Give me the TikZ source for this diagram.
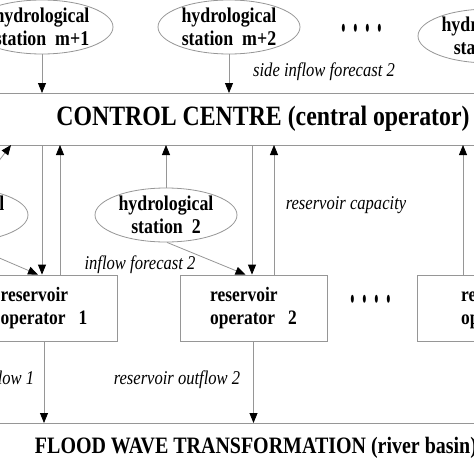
\documentclass[tikz,border=0pt]{standalone}
\usepackage{fontspec}
\setmainfont[FakeStretch=0.85]{Liberation Serif}
\usetikzlibrary{positioning,shapes.geometric,arrows.meta}

\definecolor{linegray}{RGB}{150,150,150}

\begin{document}
\begin{tikzpicture}[x=1pt, y=-1pt]
	\tikzset{
		station/.style={ellipse, draw=linegray, thick, minimum width=142pt, minimum height=54pt, inner sep=0pt, align=center, font=\fontsize{21}{23}\selectfont\bfseries},
		operator/.style={rectangle, draw=linegray, thick, minimum width=147pt, minimum height=66pt, align=left, font=\fontsize{20.5}{23}\selectfont\bfseries},
		flowlabel/.style={font=\fontsize{19.5}{22}\selectfont\itshape, inner sep=0pt},
		dots/.style={font=\fontsize{22}{22}\selectfont\bfseries, inner sep=0pt},
		edge/.style={draw=linegray, thick, -{Triangle[length=10pt, width=8pt, black]}},
		band/.style={draw=linegray, thick}
	}
	\useasboundingbox (0,0) rectangle (474,474);
	\clip (0,0) rectangle (474,474);
	
	% Upper hydrological stations
	\node[station] (stm1) at (42,27) {hydrological\\station~~m+1};
	\node[station] (stm2) at (229,27) {hydrological\\station~~m+2};
	\node[station] (stmn) at (489,36) {hydrological\\station~~n};
	\node[dots] (topdots) at (362,28) {\scalebox{1}[2.2]{.\,\,.\,\,.\,\,.}};
	
	% Control centre
	\coordinate (ctop) at (0,93);
	\coordinate (cbot) at (0,145);
	\draw[band] (ctop) -- (474,93);
	\draw[band] (cbot) -- (474,145);
	\node[font=\fontsize{28}{30}\selectfont\bfseries] (centre) at (263,119) {CONTROL CENTRE (central operator)};
	
	% Lower hydrological stations
	\node[station] (st1) at (-43,215) {hydrological\\station~~1};
	\node[station] (st2) at (166,215) {hydrological\\station~~2};
	
	% Reservoir operators
	\node[operator] (op1) at (44,308) {reservoir\\operator~~~1};
	\node[operator] (op2) at (253.5,308) {reservoir\\operator~~~2};
	\node[operator, minimum width=175pt] (opn) at (505,308) {reservoir\\operator~~~n};
	\node[dots] (middots) at (371,299) {\scalebox{1}[2.2]{.\,\,.\,\,.\,\,.}};
	
	% Flood wave transformation
	\coordinate (ftop) at (0,423);
	\draw[band] (ftop) -- (474,423);
	\node[font=\fontsize{23.5}{26}\selectfont\bfseries] (flood) at (256,448) {FLOOD WAVE TRANSFORMATION (river basin)};
	
	% Side inflow forecasts
	\draw[edge] (stm1.south) -- (stm1.south |- ctop);
	\draw[edge] (stm2.south) -- (stm2.south |- ctop);
	\node[flowlabel] (sidelab) at (324,72) {side inflow forecast 2};
	
	% Station to centre and operators
	\draw[edge] (st1.52) -- ([xshift=-33pt]op1.north |- cbot);
	\draw[edge] (st2.north) -- (st2.north |- cbot);
	\draw[edge] (st1.-78) -- ([xshift=-6pt]op1.north);
	\draw[edge] (st2.-88) -- ([xshift=-8pt]op2.north);
	\node[flowlabel] (inflab) at (140,265) {inflow forecast 2};
	
	% Centre and operators
	\draw[edge] ([xshift=-2pt]op1.north |- cbot) -- ([xshift=-2pt]op1.north);
	\draw[edge] ([xshift=16pt]op1.north) -- ([xshift=16pt]op1.north |- cbot);
	\draw[edge] ([xshift=-1.5pt]op2.north |- cbot) -- ([xshift=-1.5pt]op2.north);
	\draw[edge] ([xshift=20.5pt]op2.north) -- ([xshift=20.5pt]op2.north |- cbot);
	\draw[edge] ([xshift=-42pt]opn.north) -- ([xshift=-42pt]opn.north |- cbot);
	\node[flowlabel] (caplab) at (346,205) {reservoir capacity};
	
	% Reservoir outflows
	\draw[edge] (op1.south) -- (op1.south |- ftop);
	\draw[edge] (op2.south) -- (op2.south |- ftop);
	\node[flowlabel] (outlab1) at (-29,380) {reservoir outflow 1};
	\node[flowlabel] (outlab2) at (177,380) {reservoir outflow 2};
\end{tikzpicture}
\end{document}
